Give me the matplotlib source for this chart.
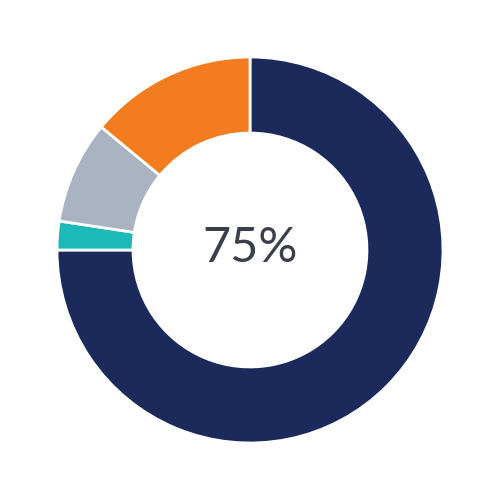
import matplotlib
matplotlib.use("Agg")
import matplotlib.pyplot as plt

labels = ["A", "B", "C", "D"]
values = [75, 2.4, 8.6, 14]
colors = ["#1b2a5a", "#1db9b9", "#a9b3c2", "#f47c20"]
center_text = "75%"

fig = plt.figure(figsize=(5, 5), dpi=100)
ax = fig.add_axes([0, 0, 1, 1])
ax.pie(values, colors=colors, startangle=90, counterclock=False,
       radius=1.0,
       wedgeprops=dict(width=0.394, edgecolor="white", linewidth=2))
lim = 250 / 193
ax.set_xlim(-lim, lim)
ax.set_ylim(-lim, lim)
ax.set_aspect("equal")
ax.axis("off")
ax.text(0, 0.01, center_text, ha="center", va="center", fontsize=35,
        color="#3b3f4a", family=["Lato", "DejaVu Sans"])
fig.savefig("out.png", dpi=100, facecolor="white")
